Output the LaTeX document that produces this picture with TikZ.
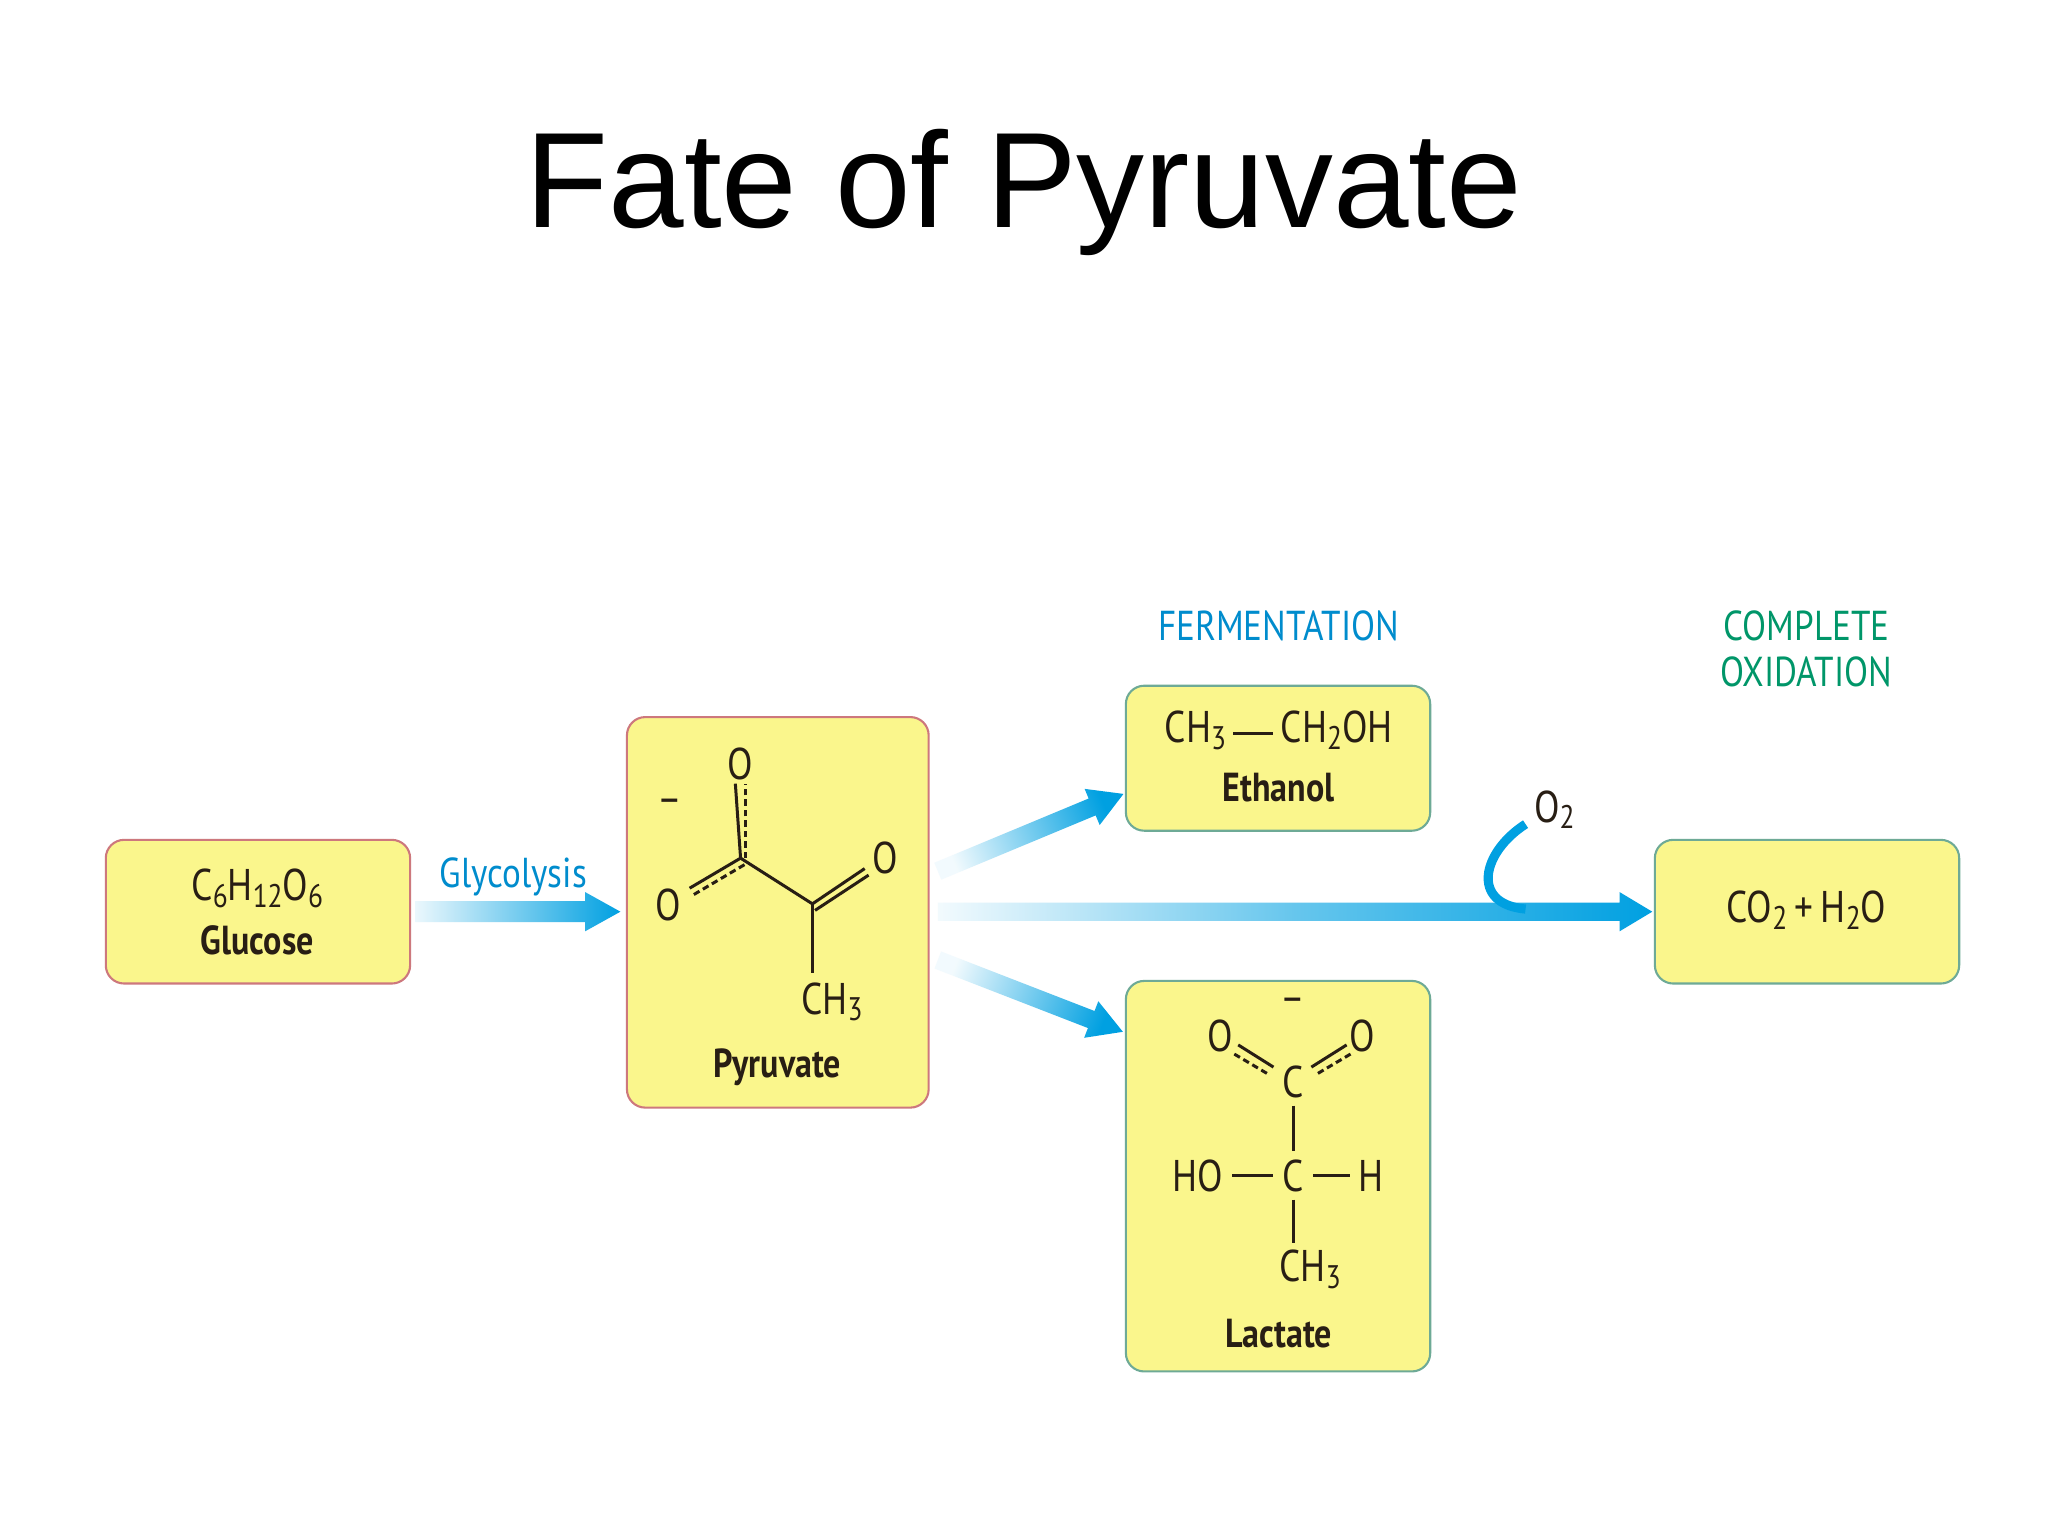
\documentclass[tikz,border=0pt]{standalone}
\usepackage{fontspec}
\setmainfont{PT Sans}[FakeStretch=0.84]
\newfontfamily\titlefont{Liberation Sans}
\usetikzlibrary{calc}
\definecolor{boxy}{RGB}{250,246,140}
\definecolor{pinkb}{RGB}{205,120,125}
\definecolor{tealb}{RGB}{110,170,150}
\definecolor{arrb}{RGB}{0,160,225}
\definecolor{txtb}{RGB}{0,140,205}
\definecolor{txtg}{RGB}{0,150,105}
\definecolor{ink}{RGB}{40,30,20}
\newcommand\sbs[1]{\raisebox{-0.3ex}{\fontsize{25pt}{26pt}\selectfont #1}}
\tikzset{
  mbox/.style={draw=#1, fill=boxy, rounded corners=14pt, line width=1.6pt},
  lbl/.style={font=\fontsize{34pt}{36pt}\selectfont, text=ink, inner sep=1pt},
  bl/.style={font=\fontsize{31pt}{34pt}\selectfont\bfseries, text=ink, inner sep=1pt},
  bond/.style={line width=2.3pt, draw=ink},
  dbond/.style={line width=2.3pt, draw=ink, dash pattern=on 5pt off 3pt},
}
\begin{document}
\begin{tikzpicture}[x=1pt,y=-1pt]
\useasboundingbox (0,0) rectangle (1568,1176);
\fill[white] (0,0) rectangle (1568,1176);
\node (title) at (784,147) {\titlefont\fontsize{104pt}{112pt}\selectfont Fate of Pyruvate};

% boxes
\draw[mbox=pinkb] (81,643) rectangle (314,753);
\node[lbl] (glf) at (197,680) {C\sbs{6}H\sbs{12}O\sbs{6}};
\node[bl] (gln) at (197,720) {Glucose};

\draw[mbox=pinkb] (480,549) rectangle (711,848);
\draw[mbox=tealb] (862,525) rectangle (1095,636);
\draw[mbox=tealb] (862,751) rectangle (1095,1050);
\draw[mbox=tealb] (1267,643) rectangle (1500,753);

% labels
\node[font=\fontsize{32pt}{34pt}\selectfont, text=txtb] (gly) at (393,671) {Glycolysis};
\node[font=\fontsize{32pt}{34pt}\selectfont, text=txtb] (ferm) at (979,479) {FERMENTATION};
\node[font=\fontsize{32pt}{35pt}\selectfont, text=txtg, align=center] (ox) at (1383,497) {COMPLETE\\OXIDATION};

% arrows
\shade[left color=arrb!8, right color=arrb] (318,690) -- (448,690) -- (448,683) -- (475,698) -- (448,713) -- (448,706) -- (318,706) -- cycle;
\shade[left color=arrb!5, right color=arrb, middle color=arrb!60] (718,691) -- (1240,691) -- (1240,683) -- (1265,698) -- (1240,713) -- (1240,705) -- (718,705) -- cycle;
\begin{scope}[shift={(718,667)}, rotate=22.6]
\shade[left color=arrb!5, right color=arrb, shading angle=112] (0,-7) -- (128,-7) -- (128,-15) -- (154,0) -- (128,15) -- (128,7) -- (0,7) -- cycle;
\end{scope}
\begin{scope}[shift={(718,735)}, rotate=-21.2]
\shade[left color=arrb!5, right color=arrb, shading angle=69] (0,-7) -- (126,-7) -- (126,-15) -- (152,0) -- (126,15) -- (126,7) -- (0,7) -- cycle;
\end{scope}
\node[lbl] (o2) at (1190,620) {O\sbs{2}};
\draw[arrb, line width=7pt] (1168,631) .. controls (1135,652) and (1125,692) .. (1168,696);

% pyruvate
\node[lbl] (po1) at (567,585) {O};
\node[lbl] (po2) at (512,693) {O};
\node[lbl] (po3) at (678,657) {O};
\node[lbl] (pch) at (637,767) {CH\sbs{3}};
\node[lbl] (pmin) at (513,617) {–};
\coordinate (pc1) at (567,657);
\coordinate (pc2) at (622,692);
\draw[bond] (pc1) -- (563,600);
\draw[dbond] (571,657) -- (571,600);
\draw[bond] (pc1) -- (528,680);
\draw[dbond] (570,662) -- (531,685);
\draw[bond] (pc1) -- (pc2);
\draw[bond] (pc2) -- (662,665);
\draw[bond] (624,697) -- (665,670);
\draw[bond] (pc2) -- (622,745);
\node[bl] (pname) at (595,817) {Pyruvate};

% ethanol
\node[lbl] (eth) at (979,559) {CH\sbs{3}\,\rule[0.35ex]{0.9em}{2.2pt}\,CH\sbs{2}OH};
\node[bl] (ename) at (979,603) {Ethanol};

% lactate
\node[lbl] (lmin) at (990,770) {–};
\node[lbl] (lo1) at (934,793) {O};
\node[lbl] (lo2) at (1043,793) {O};
\node[lbl] (lc1) at (990,828) {C};
\node[lbl] (lc2) at (990,900) {C};
\node[lbl] (lho) at (917,900) {HO};
\node[lbl] (lh) at (1050,900) {H};
\node[lbl] (lch) at (1003,972) {CH\sbs{3}};
\draw[bond] (948,800) -- (975,817);
\draw[dbond] (945,807) -- (972,823);
\draw[bond] (1031,800) -- (1004,817);
\draw[dbond] (1034,807) -- (1007,823);
\draw[bond] ([yshift=-5pt]lc1.south) -- ([yshift=5pt]lc2.north);
\draw[bond] ([xshift=6pt]lho.east) -- ([xshift=-6pt]lc2.west);
\draw[bond] ([xshift=6pt]lc2.east) -- ([xshift=-6pt]lh.west);
\draw[bond] ([yshift=-5pt]lc2.south) -- (990,952);
\node[bl] (lname) at (979,1021) {Lactate};

% CO2
\node[lbl] (co2) at (1383,697) {CO\sbs{2}\,+\,H\sbs{2}O};
\end{tikzpicture}
\end{document}
